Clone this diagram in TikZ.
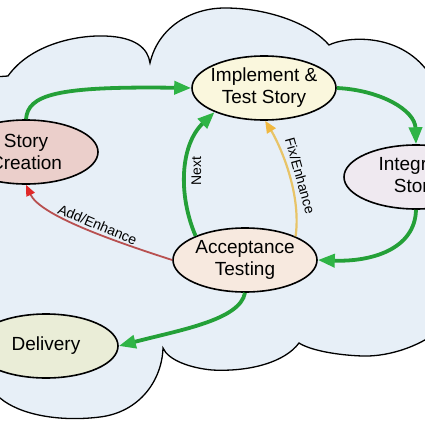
\documentclass[tikz,border=0pt]{standalone}
\usepackage{fontspec}
\setmainfont{Liberation Sans}
\usetikzlibrary{arrows.meta, shapes.geometric}

\definecolor{cloudblue}{HTML}{E7EFF7}
\definecolor{flowgreen}{HTML}{24A038}
\definecolor{headgreen}{HTML}{2FB446}
\definecolor{addred}{HTML}{B85050}
\definecolor{headred}{HTML}{E02828}
\definecolor{fixyellow}{HTML}{E8C468}
\definecolor{headyellow}{HTML}{F0B840}
\definecolor{implfill}{HTML}{FAF7DD}
\definecolor{scfill}{HTML}{EBCFCB}
\definecolor{integfill}{HTML}{EFE9F0}
\definecolor{accfill}{HTML}{F7E9DF}
\definecolor{delivfill}{HTML}{EAEDD7}

\begin{document}
\begin{tikzpicture}[x=1pt, y=-1pt,
  phase/.style={ellipse, draw, line width=1.6pt, minimum width=144pt, minimum height=64pt,
    inner sep=-14pt, align=center, text=black, font=\fontsize{19}{22}\selectfont},
  flow/.style={draw=flowgreen, line width=3.8pt, -{Triangle[length=17pt, width=13pt, color=headgreen]}},
  tag/.style={font=\fontsize{14}{16}\selectfont, sloped, above, inner sep=3pt}]

\useasboundingbox (0,0) rectangle (425,425);
\fill[white] (0,0) rectangle (425,425);
\clip (0,0) rectangle (425,425);

\filldraw[fill=cloudblue, draw=black, line width=1.3pt] (-20,78) -- (8,76)
  .. controls (30,45) and (75,35) .. (105,36)
  .. controls (135,37) and (148,48) .. (150,63)
  .. controls (158,28) and (190,8) .. (225,8)
  .. controls (270,8) and (312,25) .. (329,45)
  .. controls (345,37) and (395,32) .. (425,68)
  .. controls (440,85) and (445,100) .. (445,120)
  -- (445,325)
  .. controls (425,345) and (390,357) .. (362,356)
  .. controls (335,355) and (310,350) .. (299,343)
  .. controls (285,362) and (250,372) .. (212,370)
  .. controls (190,368) and (168,360) .. (163,348)
  .. controls (162,380) and (140,412) .. (100,417)
  .. controls (60,422) and (20,415) .. (0,398)
  -- (-20,385) -- cycle;

\node[phase, fill=implfill] (impl) at (264,88)  {Implement \&\\Test Story};
\node[phase, fill=scfill] (sc)   at (26,152)  {Story\\Creation};
\node[phase, fill=integfill] (integ) at (416,177) {Integrate\\Story};
\node[phase, fill=accfill] (acc)  at (245,260) {Acceptance\\Testing};
\node[phase, fill=delivfill] (deliv) at (46,346) {Delivery};

\draw[flow] (sc.north) .. controls (28,95) and (55,86) .. (impl.west);
\draw[flow] (impl.east) .. controls (380,90) and (415,110) .. (integ.north);
\draw[flow] (integ.south) .. controls (415,250) and (370,262) .. (acc.east);
\draw[flow] (acc.154) .. controls (178,195) and (180,145) .. (impl.206)
  node[font=\fontsize{14}{16}\selectfont, pos=0.5, rotate=90, anchor=north, inner sep=4pt] {Next};
\draw[draw=fixyellow, line width=2.2pt, -{Triangle[length=12pt, width=10pt, color=headyellow]}]
  (acc.25) .. controls (302,190) and (277,140) .. (impl.-88)
  node[tag, pos=0.42, inner sep=4pt] {Fix/Enhance};
\draw[draw=addred, line width=1.8pt, -{Triangle[length=11pt, width=9pt, color=headred]}]
  (acc.west) .. controls (110,240) and (40,215) .. (sc.south)
  node[tag, pos=0.42, inner sep=2pt] {Add/Enhance};
\draw[flow] (acc.south) .. controls (240,320) and (180,330) .. (deliv.east);
\end{tikzpicture}
\end{document}
